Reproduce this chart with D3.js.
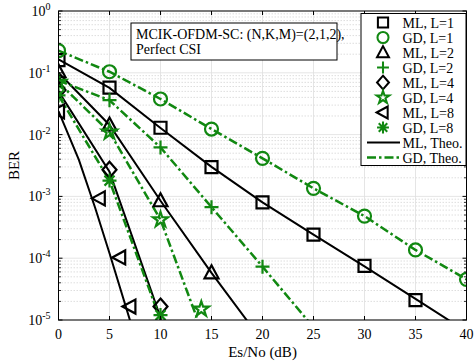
<!DOCTYPE html>
<html><head><meta charset="utf-8">
<script src="https://cdn.jsdelivr.net/npm/d3@7"></script>
<style>body{margin:0;background:#fff}svg{display:block}text{font-family:"Liberation Serif","Times New Roman",serif;fill:#000}</style>
</head><body><svg id="c" width="474" height="364"></svg>
<script>
// ---- data ----
const xTicks = [0,5,10,15,20,25,30,35,40];
const yDecades = [0,-1,-2,-3,-4,-5];
const legendLabels = ["ML, L=1","GD, L=1","ML, L=2","GD, L=2","ML, L=4","GD, L=4","ML, L=8","GD, L=8","ML, Theo.","GD, Theo."];
const annotation = ["MCIK-OFDM-SC: (N,K,M)=(2,1,2),","Perfect CSI"];

// simulation markers
const mlL1X = [0,5,10,15,20,25,30,35];
const mlL1Y = [0.16,0.0575,0.0129,0.00297,8.0e-4,2.4e-4,7.5e-5,2.1e-5];
const gdL1X = [0,5,10,15,20,25,30,35,40];
const gdL1Y = [0.228,0.104,0.0377,0.0123,0.00413,0.00135,4.8e-4,1.36e-4,4.55e-5];
const mlL2X = [0,5,10,15];
const mlL2Y = [0.104,0.0143,8.5e-4,5.8e-5];
const gdL2X = [0,5,10,15,20];
const gdL2Y = [0.072,0.036,0.0062,6.7e-4,7.3e-5];
const mlL4X = [0,5,10];
const mlL4Y = [0.0527,0.0027,1.65e-5];
const gdL4X = [0,5,10,14];
const gdL4Y = [0.07,0.011,4.2e-4,1.5e-5];
const mlL8X = [0,4,6,7];
const mlL8Y = [0.0237,9.3e-4,1.03e-4,1.65e-5];
const gdL8X = [0,5,10];
const gdL8Y = [0.043,0.0018,1.2e-5];

// theoretical curves
const thMlL1X = [0,5,10,15,20,25,30,35,40];
const thMlL1Y = [0.165,0.057,0.0128,0.003,8.0e-4,2.4e-4,7.4e-5,2.2e-5,6.5e-6];
const thGdL1X = [0,5,10,15,20,25,30,35,40];
const thGdL1Y = [0.228,0.104,0.0377,0.0123,0.00413,0.00135,4.8e-4,1.36e-4,4.55e-5];
const thMlL2X = [0,5,10,15,20];
const thMlL2Y = [0.1,0.0143,8.5e-4,5.8e-5,4.5e-6];
const thGdL2X = [0,5,10,15,20,25];
const thGdL2Y = [0.075,0.036,0.0062,6.7e-4,7.3e-5,7.6e-6];
const thMlL4X = [0,5,10,15];
const thMlL4Y = [0.05,0.0025,1.1e-5,1e-8];
const thGdL4X = [0,5,10,15];
const thGdL4Y = [0.07,0.011,4.2e-4,2.5e-6];
const thMlL8X = [0,2,3.6,5,7,8];
const thMlL8Y = [0.024,0.0039,6.5e-4,1.2e-4,1e-5,1.5e-6];
const thGdL8X = [0,5,10,15];
const thGdL8Y = [0.043,0.0018,1.0e-5,1e-8];

// ---- chart ----
const black = "#000", green = "#118811";
const svg = d3.select("#c");
const L = 58.5, R = 466.5, T = 11, B = 320;
const x = d3.scaleLinear().domain([0,40]).range([L,R]);
const y = d3.scaleLog().domain([1e-5,1]).range([B,T]);

svg.append("rect").attr("x",L).attr("y",T).attr("width",R-L).attr("height",B-T).attr("fill","#fff");

// grid
const g = svg.append("g");
const minor = [];
for (let d=-5; d<0; d++) for (let k=2;k<=9;k++) minor.push(k*Math.pow(10,d));
g.selectAll(".mg").data(minor).join("line")
  .attr("x1",L).attr("x2",R).attr("y1",d=>y(d)).attr("y2",d=>y(d))
  .attr("stroke","#d6d6d6").attr("stroke-width",0.8).attr("stroke-dasharray","1.5,1.5");
g.selectAll(".yg").data(yDecades.map(d=>Math.pow(10,d))).join("line")
  .attr("x1",L).attr("x2",R).attr("y1",d=>y(d)).attr("y2",d=>y(d))
  .attr("stroke","#dedede").attr("stroke-width",0.8);
g.selectAll(".xg").data(xTicks).join("line")
  .attr("y1",T).attr("y2",B).attr("x1",d=>x(d)).attr("x2",d=>x(d))
  .attr("stroke","#dedede").attr("stroke-width",0.8);

const clip = svg.append("clipPath").attr("id","cp").append("rect")
  .attr("x",L).attr("y",T).attr("width",R-L).attr("height",B-T);
const plot = svg.append("g").attr("clip-path","url(#cp)");

const line = d3.line().x(d=>x(d[0])).y(d=>y(d[1]));
const zip = (a,b)=>a.map((v,i)=>[v,b[i]]);
const dashGD = "9,3,2.5,3";
function theo(xs,ys,col,dash){
  plot.append("path").attr("d",line(zip(xs,ys))).attr("fill","none")
    .attr("stroke",col).attr("stroke-width",col===black?2:2.5)
    .attr("stroke-dasharray",dash||null);
}
theo(thMlL1X,thMlL1Y,black);
theo(thMlL2X,thMlL2Y,black);
theo(thMlL4X,thMlL4Y,black);
theo(thMlL8X,thMlL8Y,black);
theo(thGdL1X,thGdL1Y,green,dashGD);
theo(thGdL2X,thGdL2Y,green,dashGD);
theo(thGdL4X,thGdL4Y,green,dashGD);
theo(thGdL8X,thGdL8Y,green,dashGD);

// markers
function markerPath(type){
  const s = 6;
  switch(type){
    case "square": return `M${-s},${-s}H${s}V${s}H${-s}Z`;
    case "circle": return d3.symbol(d3.symbolCircle, Math.PI*6.5*6.5)();
    case "triUp": return `M0,${-7.5}L${7},${5.5}L${-7},${5.5}Z`;
    case "triLeft": return `M${-7.5},0L${5.5},${-7}L${5.5},${7}Z`;
    case "diamond": return `M0,-8L7,0L0,8L-7,0Z`;
    case "plus": return `M-7,0H7M0,-7V7`;
    case "star": return d3.symbol(d3.symbolStar, 70)();
    case "asterisk": return `M-7,0H7M0,-7V7M-5,-5L5,5M-5,5L5,-5`;
  }
}
function markers(xs,ys,type,col){
  const fill = (type==="star") ? "none" : "none";
  plot.append("g").selectAll("path").data(zip(xs,ys)).join("path")
    .attr("transform",d=>`translate(${x(d[0])},${y(d[1])})`)
    .attr("d",markerPath(type)).attr("fill",fill)
    .attr("stroke",col).attr("stroke-width",2.2);
}
markers(mlL1X,mlL1Y,"square",black);
markers(gdL1X,gdL1Y,"circle",green);
markers(mlL2X,mlL2Y,"triUp",black);
markers(gdL2X,gdL2Y,"plus",green);
markers(mlL4X,mlL4Y,"diamond",black);
markers(gdL4X,gdL4Y,"star",green);
markers(mlL8X,mlL8Y,"triLeft",black);
markers(gdL8X,gdL8Y,"asterisk",green);

// axes box + ticks
const ax = svg.append("g");
ax.append("rect").attr("x",L).attr("y",T).attr("width",R-L).attr("height",B-T)
  .attr("fill","none").attr("stroke","#000").attr("stroke-width",1);
xTicks.forEach(t=>{
  ax.append("line").attr("x1",x(t)).attr("x2",x(t)).attr("y1",B).attr("y2",B-4).attr("stroke","#000");
  ax.append("line").attr("x1",x(t)).attr("x2",x(t)).attr("y1",T).attr("y2",T+4).attr("stroke","#000");
  ax.append("text").attr("x",x(t)).attr("y",B+19).attr("text-anchor","middle").attr("font-size",14).text(t);
});
yDecades.forEach(dd=>{
  const v = Math.pow(10,dd);
  ax.append("line").attr("x1",L).attr("x2",L+4).attr("y1",y(v)).attr("y2",y(v)).attr("stroke","#000");
  ax.append("line").attr("x1",R).attr("x2",R-4).attr("y1",y(v)).attr("y2",y(v)).attr("stroke","#000");
  const t = ax.append("text").attr("x",L-8).attr("y",y(v)+5).attr("text-anchor","end").attr("font-size",14);
  t.append("tspan").text("10");
  t.append("tspan").attr("dy",-6).attr("font-size",10).text(dd);
});
minor.forEach(v=>{
  ax.append("line").attr("x1",L).attr("x2",L+2.5).attr("y1",y(v)).attr("y2",y(v)).attr("stroke","#000").attr("stroke-width",0.8);
  ax.append("line").attr("x1",R).attr("x2",R-2.5).attr("y1",y(v)).attr("y2",y(v)).attr("stroke","#000").attr("stroke-width",0.8);
});
svg.append("text").attr("x",(L+R)/2).attr("y",357).attr("text-anchor","middle").attr("font-size",15).text("Es/No (dB)");
svg.append("text").attr("transform",`translate(19,${(T+B)/2}) rotate(-90)`).attr("text-anchor","middle").attr("font-size",15).text("BER");

// annotation
svg.append("rect").attr("x",131).attr("y",23).attr("width",206).attr("height",37)
  .attr("fill","#fff").attr("stroke","#000").attr("stroke-width",1);
annotation.forEach((s,i)=>svg.append("text").attr("x",136).attr("y",39+i*15).attr("font-size",14).text(s));

// legend
const lg = svg.append("g");
lg.append("rect").attr("x",361).attr("y",13.5).attr("width",105).attr("height",152)
  .attr("fill","#fff").attr("stroke","#000").attr("stroke-width",1);
const legTypes = ["square","circle","triUp","plus","diamond","star","triLeft","asterisk"];
legendLabels.forEach((lab,i)=>{
  const yy = 22.5 + i*15;
  const col = (i<8) ? (i%2===0?black:green) : (i===8?black:green);
  if(i<8){
    lg.append("path").attr("transform",`translate(383,${yy}) scale(0.85)`).attr("d",markerPath(legTypes[i]))
      .attr("fill","none").attr("stroke",col).attr("stroke-width",2.4);
  } else {
    lg.append("line").attr("x1",367).attr("x2",400).attr("y1",yy).attr("y2",yy)
      .attr("stroke",col).attr("stroke-width",i===8?2:2.5).attr("stroke-dasharray",i===9?dashGD:null);
  }
  lg.append("text").attr("x",402.5).attr("y",yy+5).attr("font-size",14).text(lab);
});
</script></body></html>
